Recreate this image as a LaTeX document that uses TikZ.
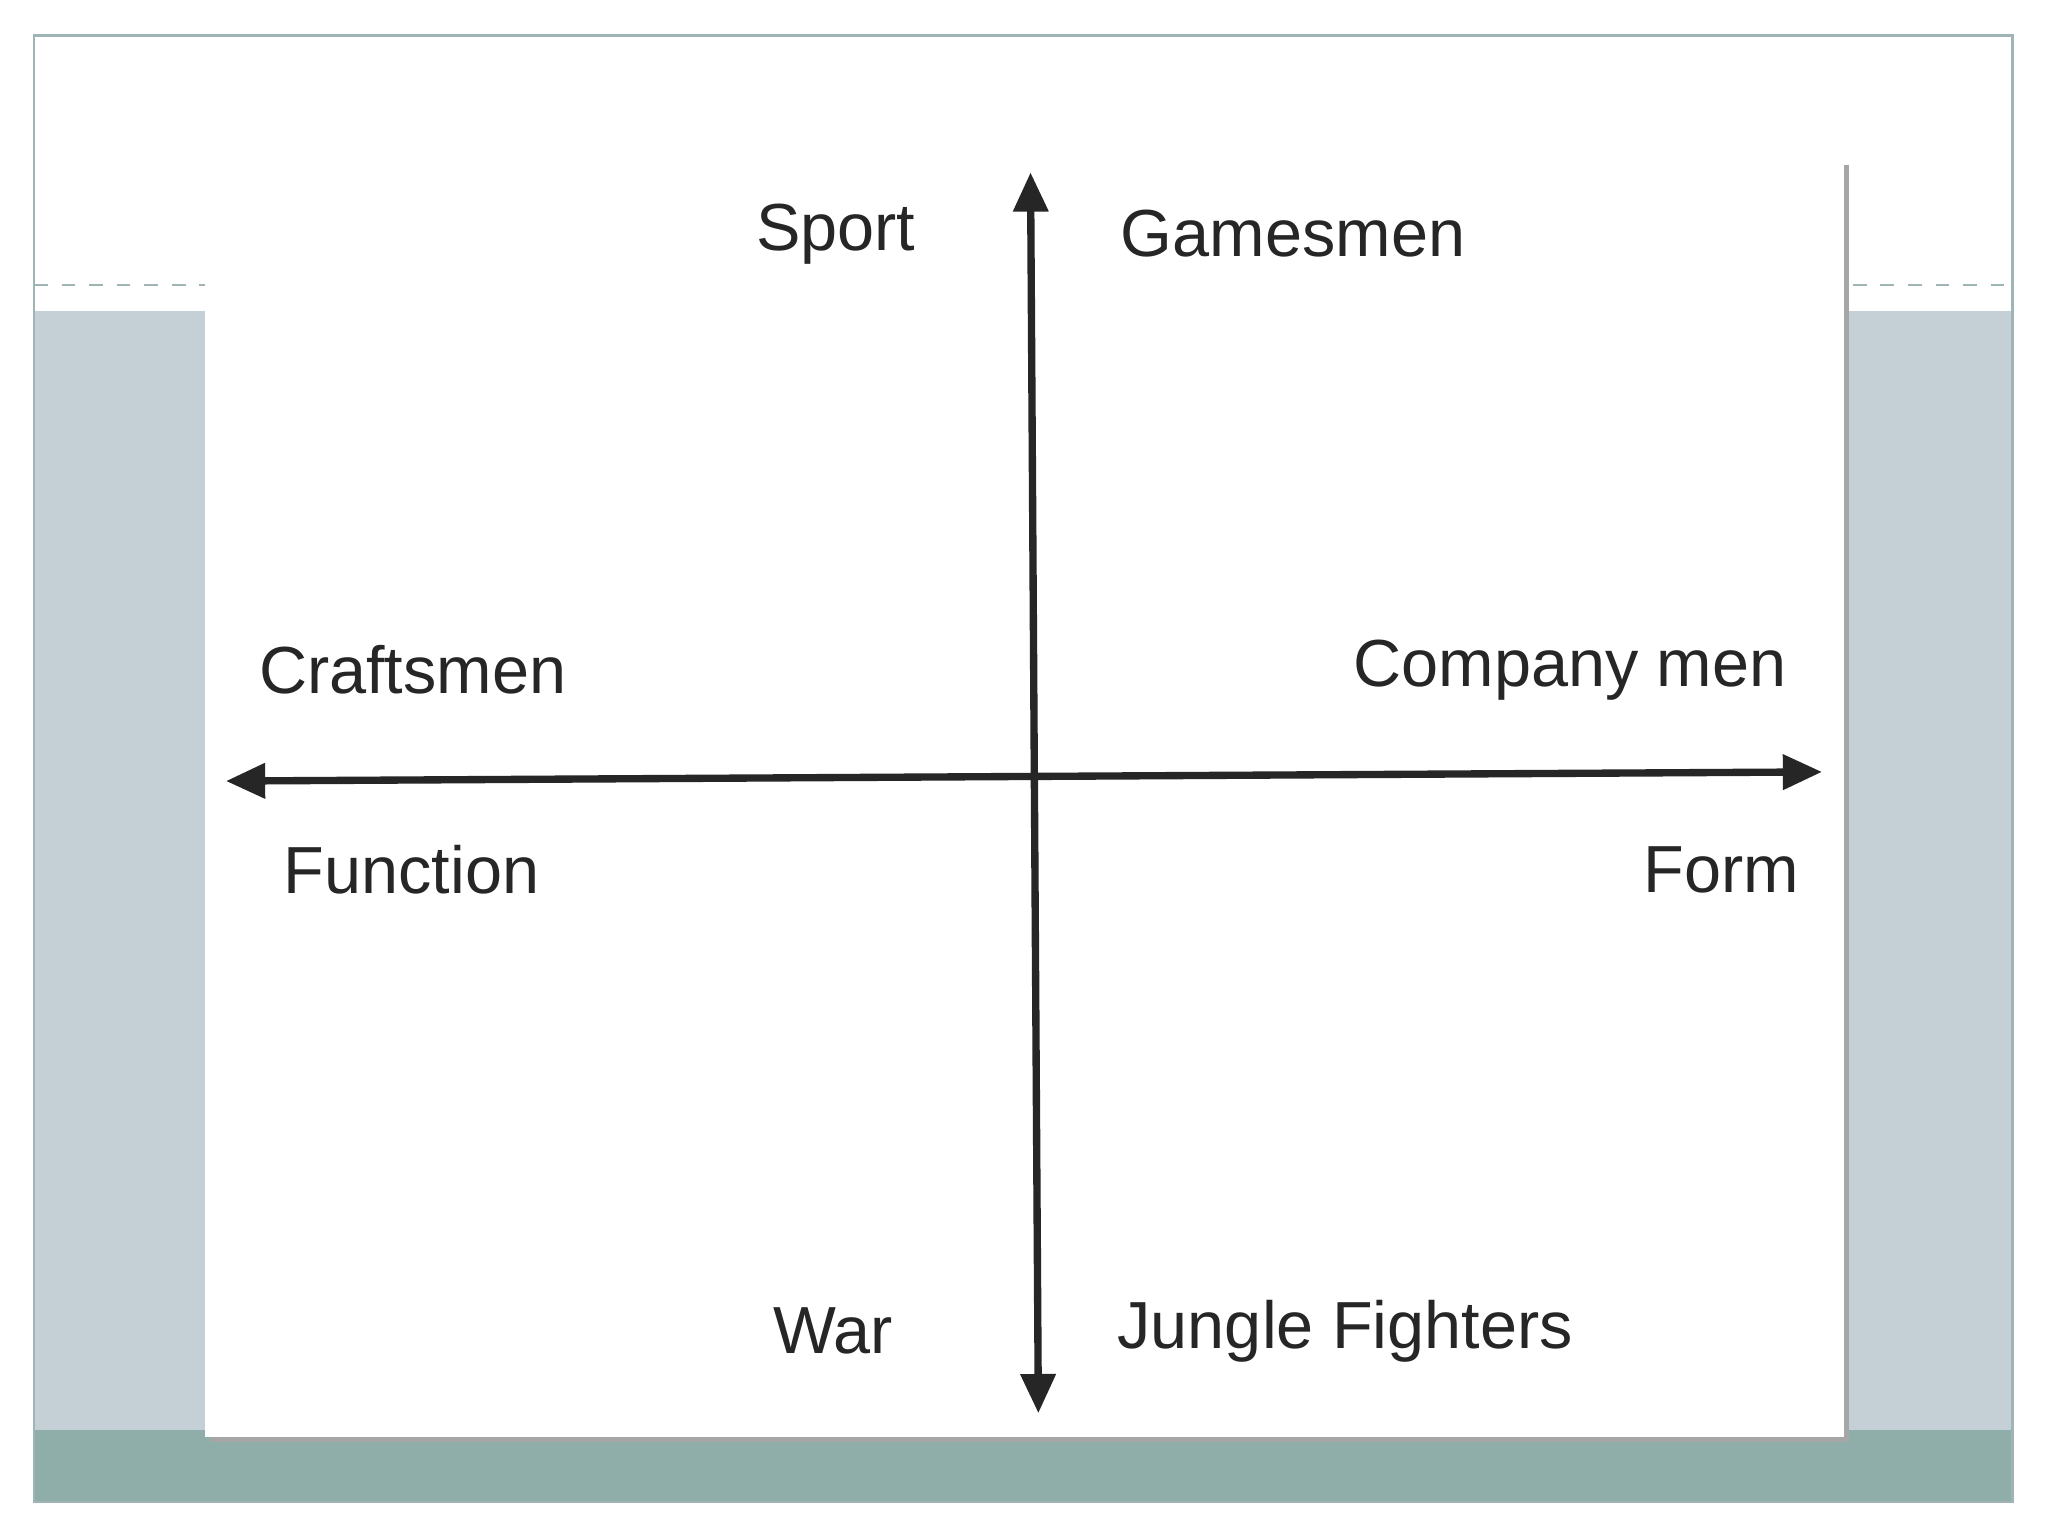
\documentclass[tikz,border=0pt]{standalone}
\usepackage{fontspec}
\setmainfont{Liberation Sans}
\usetikzlibrary{arrows.meta}
\definecolor{band}{HTML}{C4D0D5}
\definecolor{foot}{HTML}{8FAEAA}
\definecolor{frame}{HTML}{9FB5B5}
\tikzset{lbl/.style={font=\fontsize{14.5pt}{17pt}\selectfont, text=black!85, inner sep=0pt},
axis/.style={line width=1.6pt, black!85, {Triangle[length=0.3cm,width=0.26cm]}-{Triangle[length=0.3cm,width=0.26cm]}}}
\begin{document}
\begin{tikzpicture}[x=0.01cm,y=-0.01cm]
\useasboundingbox[fill=white] (0,0) rectangle (1568,1176);
\fill[band] (26,238) rectangle (1541,1095);
\fill[foot] (26,1095) rectangle (1541,1150);
\draw[frame, dashed, line width=0.5pt] (26,218) -- (1541,218);
\draw[frame, line width=0.6pt] (26,27) rectangle (1541,1150);
\fill[black!35] (161,126) rectangle (1416,1104);
\fill[white] (157,122) rectangle (1412,1100);
\coordinate (top) at (789,132);
\coordinate (bot) at (795,1082);
\coordinate (lft) at (173,598);
\coordinate (rgt) at (1395,591);
\draw[axis] (bot) -- (top);
\draw[axis] (lft) -- (rgt);
\node[lbl] (sport) at (640,179) {Sport};
\node[lbl] (games) at (990,179) {Gamesmen};
\node[lbl] (craft) at (316,513) {Craftsmen};
\node[lbl] (comp) at (1202,513) {Company men};
\node[lbl] (func) at (315,666) {Function};
\node[lbl] (form) at (1318,666) {Form};
\node[lbl] (war) at (638,1019) {War};
\node[lbl] (jungle) at (1030,1019) {Jungle Fighters};
\end{tikzpicture}
\end{document}
